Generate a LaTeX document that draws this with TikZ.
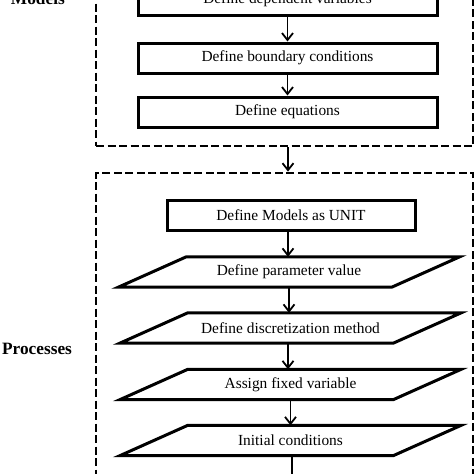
\documentclass[tikz,border=0pt]{standalone}
\usepackage{fontspec}
\setmainfont{Liberation Serif}
\usetikzlibrary{arrows.meta}
\begin{document}
\begin{tikzpicture}[x=1pt,y=-1pt,
  txt/.style={font=\fontsize{15.4}{18}\selectfont},
  box/.style={txt, draw, line width=3pt, minimum height=30pt, inner sep=0pt},
  para/.style={txt, minimum width=273pt, minimum height=30pt, inner sep=0pt},
  paraline/.style={line width=3pt, line join=miter},
  arr/.style={line width=1.8pt, -{Straight Barb[length=7pt,width=11pt]}},
  dbox/.style={draw, line width=2.8pt, dash pattern=on 8pt off 3.5pt, inner sep=0pt},
  lab/.style={font=\fontsize{17.3}{20}\selectfont\bfseries}]
\useasboundingbox (0,0) rectangle (474,474);
% dashed containers
\node[dbox, minimum width=377pt, minimum height=206pt] (models) at (284.5,43) {};
\node[dbox, minimum width=377pt, minimum height=387pt] (procs) at (284.5,366.5) {};
% labels
\node[lab, anchor=base east, inner sep=0pt] (mlab) at (65,4) {Models};
\node[lab, anchor=base, inner sep=0pt] (plab) at (37,354) {Processes};
% model boxes
\node[box, minimum width=299pt] (b1) at (287.5,0) {Define dependent variables};
\node[box, minimum width=299pt] (b2) at (287.5,58) {Define boundary conditions};
\node[box, minimum width=299pt] (b3) at (287.5,112) {Define equations};
% process steps
\node[box, minimum width=248pt] (u) at (291,215) {Define Models as UNIT};
\node[para] (p1) at (289,272) {Define parameter value};
\node[para] (p2) at (290.5,328) {Define discretization method};
\node[para] (p3) at (290.5,384.5) {Assign fixed variable};
\node[para] (p4) at (290.5,440.5) {Initial conditions};
\foreach \n in {p1,p2,p3,p4}
  \draw[paraline] ([xshift=34pt]\n.north west) -- ([xshift=34pt]\n.north east)
    -- ([xshift=-34pt]\n.south east) -- ([xshift=-34pt]\n.south west) -- cycle;
\coordinate (endc) at (292,500);
% connectors
\draw[arr] (b1.south) -- (b1.south |- b2.north);
\draw[arr] (b2.south) -- (b2.south |- b3.north);
\draw[arr] (models.south -| 288,0) -- (procs.north -| 288,0);
\draw[arr] (u.south -| 288,0) -- (p1.north -| 288,0);
\draw[arr] (p1.south) -- (p1.south |- p2.north);
\draw[arr] (p2.south -| 288,0) -- (p3.north -| 288,0);
\draw[arr] (p3.south) -- (p3.south |- p4.north);
\draw[arr] (p4.south -| endc) -- (endc);
\end{tikzpicture}
\end{document}
